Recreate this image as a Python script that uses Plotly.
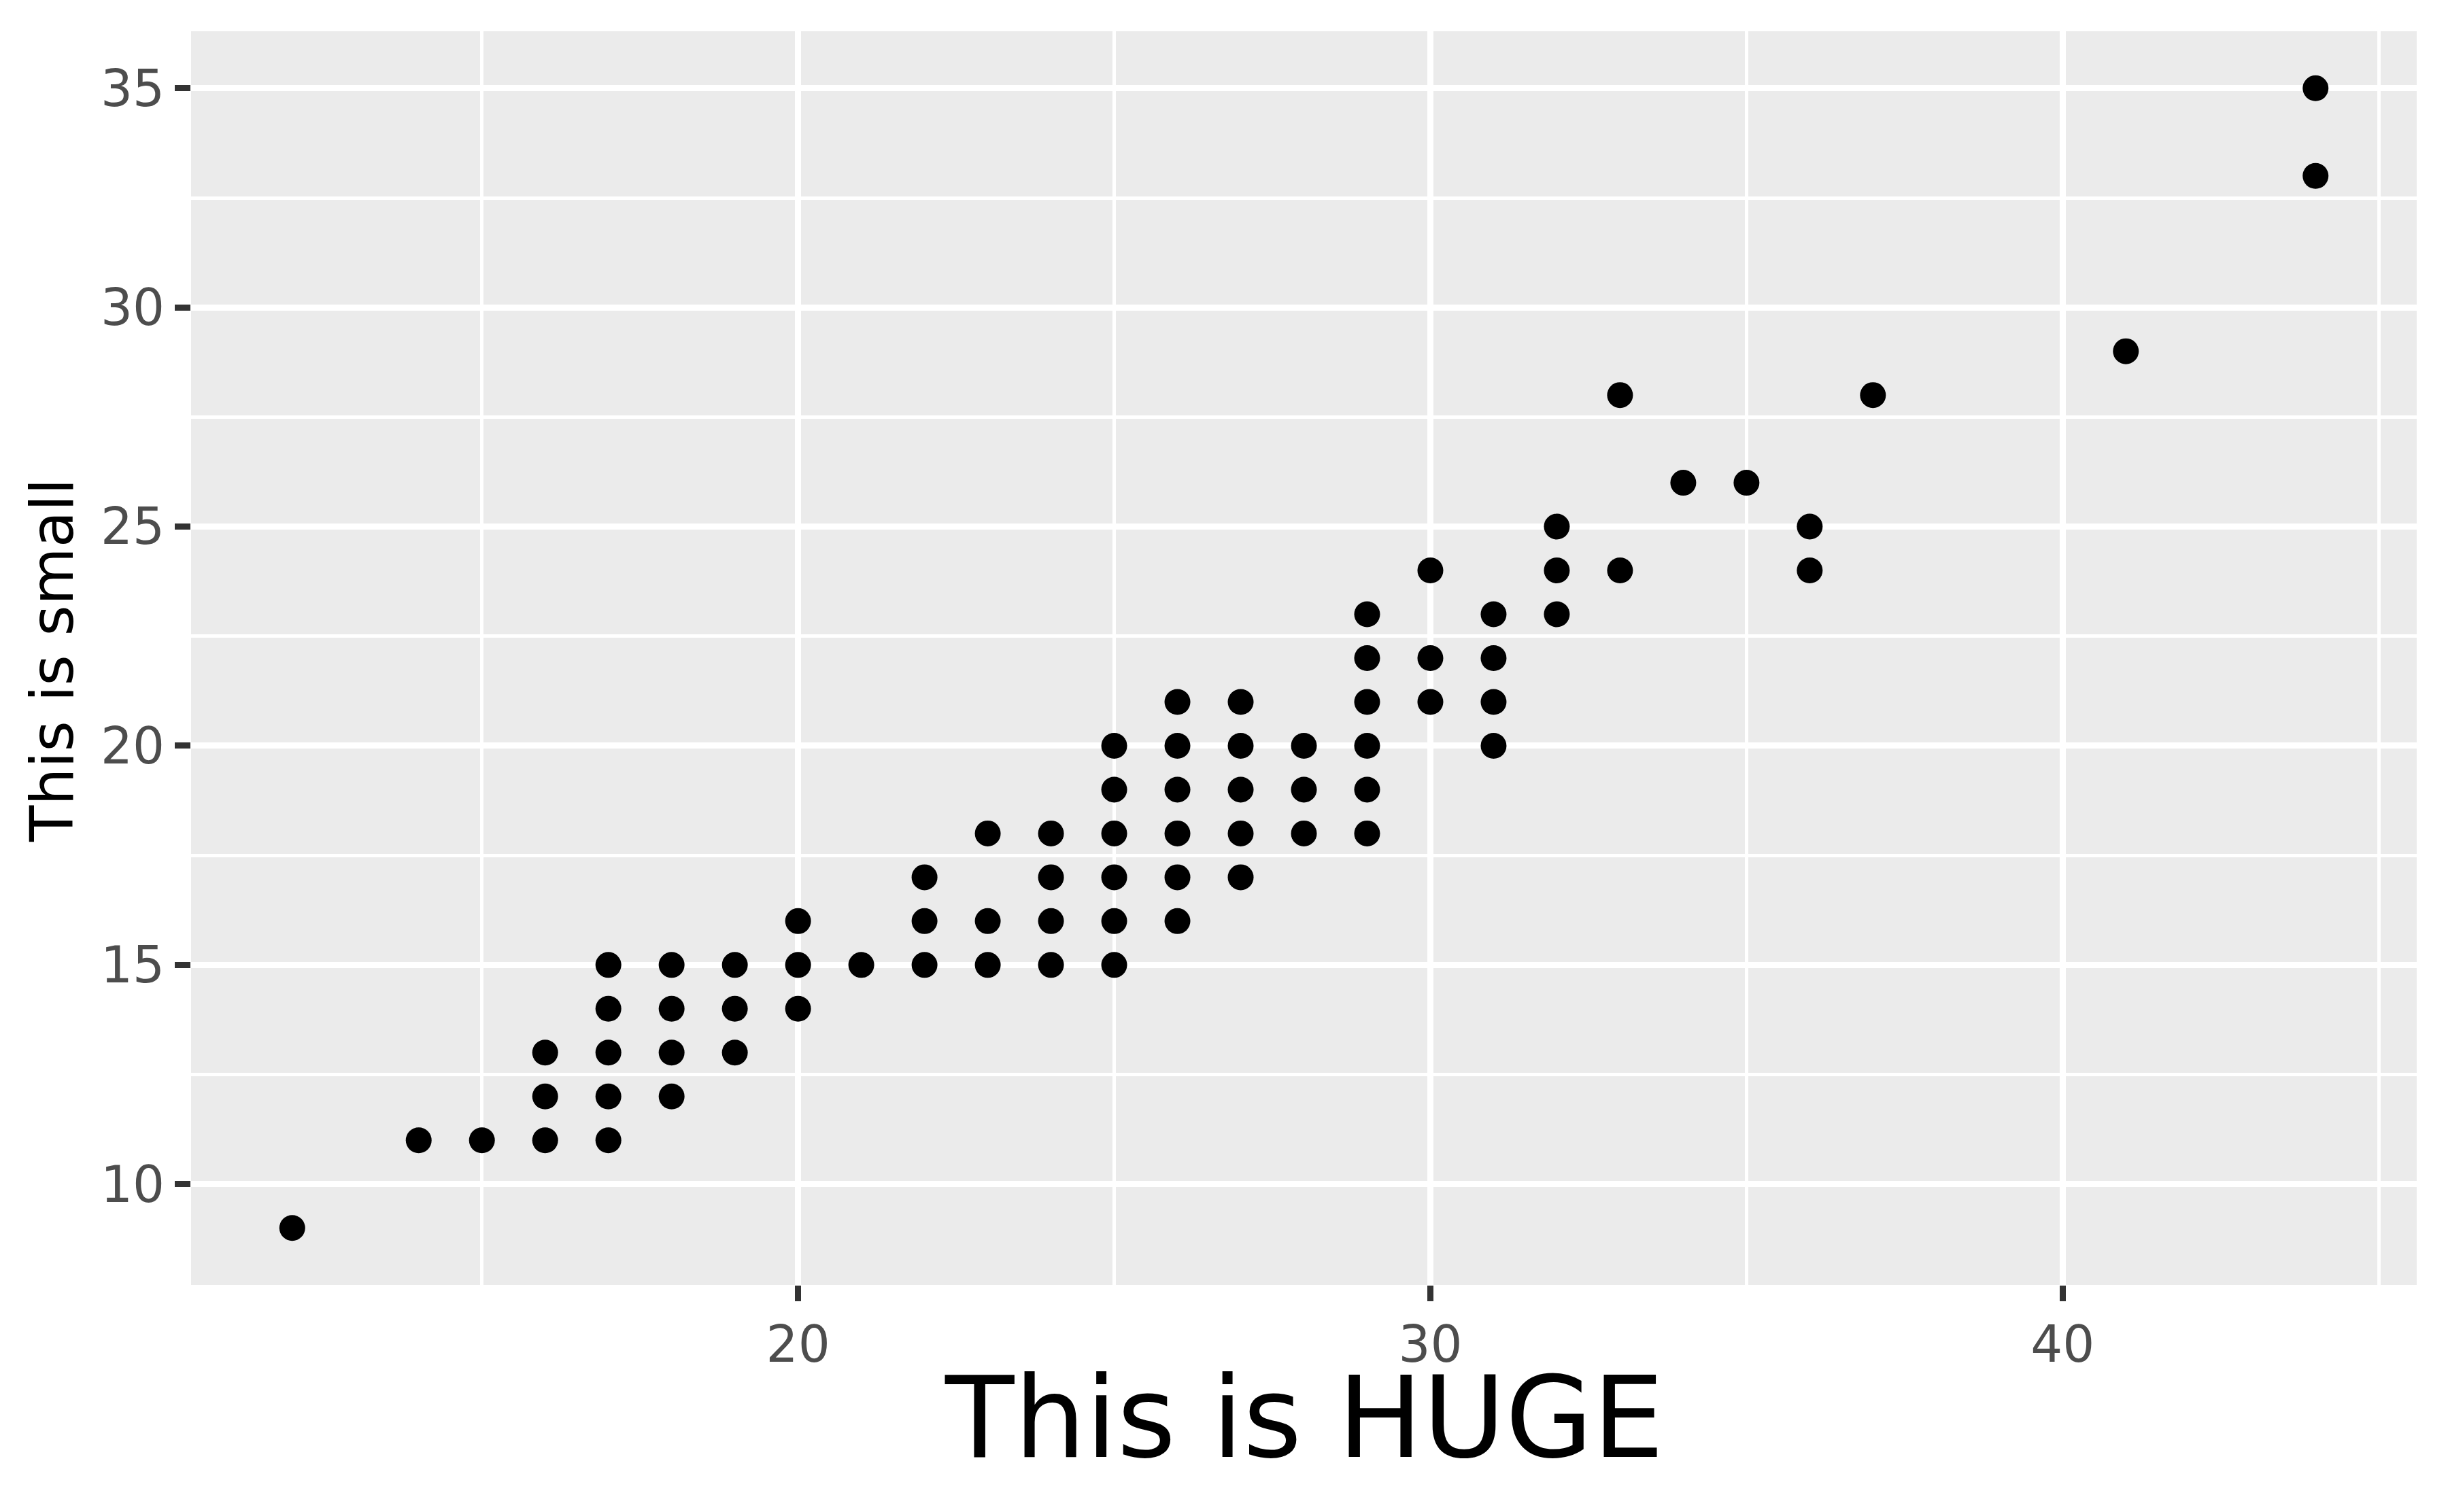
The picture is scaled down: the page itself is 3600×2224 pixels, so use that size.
import plotly.graph_objects as go

# highway vs city mileage, one entry per distinct point
hwy = [12, 14, 15, 16, 16, 16, 17, 17, 17, 17, 17, 18, 18, 18, 18,
       19, 19, 19, 20, 20, 20, 21, 22, 22, 22, 23, 23, 23, 24, 24, 24, 24,
       25, 25, 25, 25, 25, 25, 26, 26, 26, 26, 26, 26, 27, 27, 27, 27, 27,
       28, 28, 28, 29, 29, 29, 29, 29, 29, 30, 30, 30, 31, 31, 31, 31,
       32, 32, 32, 33, 33, 34, 35, 36, 36, 37, 41, 44, 44]
cty = [9, 11, 11, 11, 12, 13, 11, 12, 13, 14, 15, 12, 13, 14, 15,
       13, 14, 15, 14, 15, 16, 15, 15, 16, 17, 15, 16, 18, 15, 16, 17, 18,
       15, 16, 17, 18, 19, 20, 16, 17, 18, 19, 20, 21, 17, 18, 19, 20, 21,
       18, 19, 20, 18, 19, 20, 21, 22, 23, 21, 22, 24, 20, 21, 22, 23,
       23, 24, 25, 24, 28, 26, 26, 24, 25, 28, 29, 33, 35]

x_label = "This is HUGE"
y_label = "This is small"

fig = go.Figure()
fig.add_trace(go.Scatter(
    x=hwy, y=cty, mode="markers",
    marker=dict(color="black", size=38, line=dict(width=0)),
    showlegend=False,
))

axis_common = dict(
    showgrid=True, gridcolor="white", gridwidth=9,
    zeroline=False, showline=False, automargin=False,
    ticks="outside", ticklen=23, tickwidth=9, tickcolor="#333333",
    tickfont=dict(family="DejaVu Sans", size=74, color="#4D4D4D"),
)

# the page body adds 8px around the figure, so the figure is 8px smaller
fig.update_layout(
    width=3592, height=2216,
    margin=dict(l=273, r=46, t=38, b=334),
    paper_bgcolor="white", plot_bgcolor="#EBEBEB",
    font=dict(family="DejaVu Sans"),
    xaxis=dict(
        range=[10.4, 45.6], tick0=0, dtick=10,
        minor=dict(dtick=5, tick0=0, showgrid=True, gridcolor="white", gridwidth=4.5, ticks=""),
        **axis_common,
    ),
    yaxis=dict(
        range=[7.7, 36.3], tick0=0, dtick=5,
        minor=dict(dtick=2.5, tick0=0, showgrid=True, gridcolor="white", gridwidth=4.5, ticks=""),
        **axis_common,
    ),
)

# axis titles as annotations for exact placement
fig.add_annotation(
    text=x_label, xref="paper", yref="paper", x=0.5, y=0,
    xanchor="center", yanchor="middle", yshift=-195, showarrow=False,
    font=dict(size=166, color="black"),
)
fig.add_annotation(
    text=y_label, xref="paper", yref="paper", x=0, y=0.5,
    xanchor="center", yanchor="middle", xshift=-204, yshift=-4,
    textangle=-90, showarrow=False,
    font=dict(size=87, color="black"),
)

fig.write_html("out.html")
